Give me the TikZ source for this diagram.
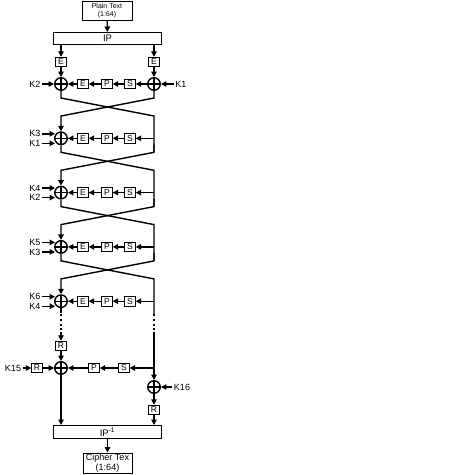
\documentclass[tikz,border=0pt]{standalone}
\usepackage{fontspec}
\setmainfont{Liberation Sans}
\usetikzlibrary{arrows.meta}
\tikzset{
  box/.style={draw, line width=0.9pt, minimum width=10.5pt, minimum height=9.5pt, inner sep=0pt, font=\fontsize{8.5}{8.5}\selectfont},
  bar/.style={draw, line width=1pt, minimum width=108pt, inner sep=0pt},
  xor/.style={draw, circle, minimum size=12.5pt, inner sep=0pt,
    path picture={\draw (path picture bounding box.north) -- (path picture bounding box.south)
      (path picture bounding box.west) -- (path picture bounding box.east);}},
  arr/.style={-{Triangle[length=5.5pt,width=5.5pt]}},
  key/.style={font=\fontsize{9}{9}\selectfont, inner sep=1pt},
  dots/.style={line width=2.6pt, dash pattern=on 2pt off 2.8pt}
}
\begin{document}
\begin{tikzpicture}[x=1pt,y=-1pt,line width=1.4pt]
\useasboundingbox (0,0) rectangle (474,475);
\node[draw, line width=1pt, minimum width=50pt, minimum height=19pt, inner sep=0pt, align=center, font=\fontsize{7}{8}\selectfont] (plain) at (107,10.5) {Plain Text\\(1:64)};
\node[bar, minimum height=12pt, font=\fontsize{9.5}{10}\selectfont] (ip) at (107.5,38.5) {IP};
\draw[arr] (plain) -- (ip);
\node[box] (el) at (61,62) {E};
\node[box] (er) at (154,62) {E};
\draw[arr] (ip.south -| el) -- (el);
\draw[arr] (ip.south -| er) -- (er);
\node[xor] (x1) at (61,84) {};
\node[xor] (x1r) at (154,84) {};
\draw[arr] (el) -- (x1);
\draw[arr] (er) -- (x1r);
\node[box] (e1) at (83,84) {E};
\node[box] (p1) at (107,84) {P};
\node[box] (s1) at (130,84) {S};
\draw[arr] (x1r) -- (s1);
\draw[arr] (s1) -- (p1);
\draw[arr] (p1) -- (e1);
\draw[arr] (e1) -- (x1);
\node[key] (k2) at (35,84) {K2};
\node[key] (k1) at (181,84) {K1};
\draw[arr] (k2) -- (x1);
\draw[arr] (k1) -- (x1r);
\foreach \i/\ka/\kb in {2/3/1,3/4/2,4/5/3,5/6/4}{
  \pgfmathsetmacro\yy{84+54.3*(\i-1)}
  \node[xor] (x\i) at (61,\yy) {};
  \node[box] (e\i) at (83,\yy) {E};
  \node[box] (p\i) at (107,\yy) {P};
  \node[box] (s\i) at (130,\yy) {S};
  \node[key] (ka\i) at (35,\yy-4.5) {K\ka};
  \node[key] (kb\i) at (35,\yy+5) {K\kb};
  \draw[arr] (s\i -| x1r) -- (s\i);
  \draw[arr] (s\i) -- (p\i);
  \draw[arr] (p\i) -- (e\i);
  \draw[arr] (e\i) -- (x\i);
  \draw[arr] (ka\i) -- ([xshift=1pt]ka\i -| x\i.west);
  \draw[arr] (kb\i) -- ([xshift=1pt]kb\i -| x\i.west);
}
\foreach \k in {1,...,4}{
  \pgfmathsetmacro\yy{84+54.3*(\k-1)}
  \pgfmathtruncatemacro\kn{\k+1}
  \draw (x\k) -- (61,\yy+14) -- (154,\yy+32) -- (154,\yy+68);
  \draw[arr] (154,\yy+6) -- (154,\yy+14) -- (61,\yy+32) -- (x\kn);
}
\draw (x5) -- (61,313);
\draw[dots] (61,314) -- (61,331);
\draw[dots] (154,314) -- (154,331);
\node[box] (r1) at (61,346) {R};
\node[xor] (xf) at (61,368) {};
\node[box] (r3) at (37,368) {R};
\node[box] (pf) at (94,368) {P};
\node[box] (sf) at (124,368) {S};
\node[key] (k15) at (13,368) {K15};
\node[xor] (x16) at (154,387) {};
\node[key] (k16) at (182,387) {K16};
\node[box] (r2) at (154,410) {R};
\draw[arr] (61,332) -- (r1);
\draw[arr] (r1) -- (xf);
\draw[arr] (154,332) -- (x16);
\draw[arr] (sf -| x16) -- (sf);
\draw[arr] (sf) -- (pf);
\draw[arr] (pf) -- (xf);
\draw[arr] (k15) -- (r3);
\draw[arr] (r3) -- (xf);
\draw[arr] (k16) -- (x16);
\draw[arr] (x16) -- (r2);
\node[bar, minimum height=13pt, font=\fontsize{9.5}{10}\selectfont] (ipi) at (107.5,432) {IP\textsuperscript{-1}};
\draw[arr] (xf) -- (xf |- ipi.north);
\draw[arr] (r2) -- (r2 |- ipi.north);
\node[draw, line width=1pt, minimum width=49pt, minimum height=20pt, inner sep=0pt, align=center, font=\fontsize{9}{9.5}\selectfont] (cipher) at (107.5,463) {Cipher Tex\\(1:64)};
\draw[arr] (ipi) -- (cipher);
\end{tikzpicture}
\end{document}
